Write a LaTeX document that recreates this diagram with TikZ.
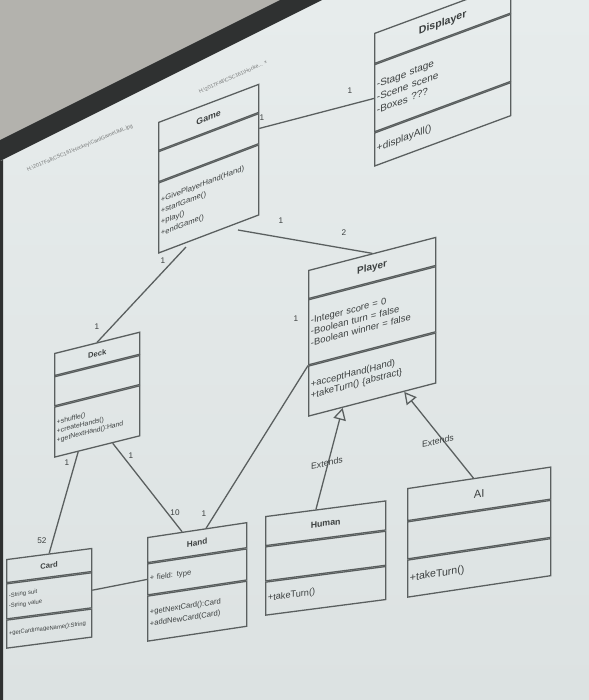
\documentclass[tikz,border=0pt]{standalone}
\usepackage{fontspec}
\setmainfont{Liberation Sans}
\usetikzlibrary{arrows.meta,calc}
\definecolor{screen}{HTML}{E7ECEC}
\definecolor{screendk}{HTML}{DCE2E2}
\definecolor{ceiling}{HTML}{B3B2AD}
\definecolor{bezel}{HTML}{2F3131}
\definecolor{linec}{HTML}{5A5F5F}
\definecolor{ink}{HTML}{3C4040}
\newcommand{\clsfont}{\fontsize{7}{9}\selectfont}
\newcommand{\clstitle}{\fontsize{7}{9}\selectfont\bfseries}
\tikzset{
  cname/.style 2 args={draw=linec, line width=1.1pt, anchor=north west, align=center,
    text=ink, inner xsep=0.07cm, inner ysep=1pt, text width=#1, minimum height=#2,
    font=\clstitle},
  cpart/.style 2 args={draw=linec, line width=1.1pt, anchor=north west, align=left,
    text=ink, inner xsep=0.07cm, inner ysep=1pt, text width=#1, minimum height=#2,
    font=\clsfont},
  assoc/.style={draw=linec, line width=1.1pt},
  extends/.style={assoc, -{Triangle[open, length=3.6mm, width=3.8mm]}},
  mult/.style={text=ink, font=\fontsize{7}{8}\selectfont, inner sep=0pt},
  browser/.style={text=ink!70, font=\fontsize{4.5}{5}\selectfont, inner sep=0pt},
}

\begin{document}
\begin{tikzpicture}[x=0.03cm, y=-0.03cm]
     \useasboundingbox (0,0) rectangle (589,700);
     % screen, ceiling and bezel
     \shade[top color=screen, bottom color=screendk] (0,0) rectangle (589,700);
     \fill[ceiling] (0,0) -- (280,0) -- (0,140) -- cycle;
     \fill[bezel] (0,140) -- (280,0) -- (322,0) -- (0,161) -- cycle;
     \fill[bezel] (0,161) -- (3,160) -- (3,700) -- (0,700) -- cycle;
     \node[browser, rotate=24] (tab) at (233,77) {H:\textbackslash 2017Fall\textbackslash CSC161\textbackslash Hocke... ×};
     \node[browser, rotate=23] (addr) at (80,148) {H:\textbackslash 2017Fall\textbackslash CSC161\textbackslash Hockey\textbackslash CardGameUML.jpg};

     % Displayer
     \begin{scope}[shift={(374,33)}, yslant=0.37, transform shape]
       \def\clsfont{\fontsize{8.5}{11}\selectfont}
       \def\clstitle{\fontsize{9}{11}\selectfont\bfseries}
       \node[cname={3.94cm}{0.90cm}] (disp) at (0,0) {Displayer};
       \node[cpart={3.94cm}{2.01cm}] (disp-a) at (disp.south west) {-Stage stage\\-Scene scene\\-Boxes ???};
       \node[cpart={3.94cm}{0.99cm}] (disp-m) at (disp-a.south west) {+displayAll()};
     \end{scope}

     % Game
     \begin{scope}[shift={(158,122)}, yslant=0.38, transform shape]
       \def\clsfont{\fontsize{6.5}{9.5}\selectfont}
       \def\clstitle{\fontsize{7.5}{9}\selectfont\bfseries}
       \node[cname={2.86cm}{0.84cm}] (game) at (0,0) {Game};
       \node[cpart={2.86cm}{0.90cm}] (game-a) at (game.south west) {};
       \node[cpart={2.86cm}{2.10cm}] (game-m) at (game-a.south west) {+GivePlayerHand(Hand)\\+startGame()\\+play()\\+endGame()};
     \end{scope}

     % Player
     \begin{scope}[shift={(308,270)}, yslant=0.26, transform shape]
       \def\clsfont{\fontsize{8}{9.5}\selectfont}
       \def\clstitle{\fontsize{8.5}{10}\selectfont\bfseries}
       \node[cname={3.67cm}{0.84cm}] (player) at (0,0) {Player};
       \node[cpart={3.67cm}{1.95cm}] (player-a) at (player.south west) {-Integer score = 0\\-Boolean turn = false\\-Boolean winner = false};
       \node[cpart={3.67cm}{1.50cm}] (player-m) at (player-a.south west) {+acceptHand(Hand)\\+takeTurn() \{abstract\}};
     \end{scope}

     % Deck
     \begin{scope}[shift={(54,353)}, yslant=0.25, transform shape]
       \def\clsfont{\fontsize{5.8}{7.5}\selectfont}
       \def\clstitle{\fontsize{6.5}{8}\selectfont\bfseries}
       \node[cname={2.41cm}{0.66cm}] (deck) at (0,0) {Deck};
       \node[cpart={2.41cm}{0.87cm}] (deck-a) at (deck.south west) {};
       \node[cpart={2.41cm}{1.50cm}] (deck-m) at (deck-a.south west) {+shuffle()\\+createHands()\\+getNextHand():Hand};
     \end{scope}

     % Card
     \begin{scope}[shift={(6,559)}, yslant=0.13, transform shape]
       \def\clsfont{\fontsize{5}{9}\selectfont}
       \def\clstitle{\fontsize{6.5}{8}\selectfont\bfseries}
       \node[cname={2.41cm}{0.69cm}] (card) at (0,0) {Card};
       \node[cpart={2.41cm}{1.05cm}] (card-a) at (card.south west) {-String suit\\-String value};
       \node[cpart={2.41cm}{0.84cm}] (card-m) at (card-a.south west) {+getCardImageName():String};
     \end{scope}

     % Hand
     \begin{scope}[shift={(147,537)}, yslant=0.15, transform shape]
       \def\clsfont{\fontsize{6.5}{10}\selectfont}
       \def\clstitle{\fontsize{7}{9}\selectfont\bfseries}
       \node[cname={2.83cm}{0.75cm}] (hand) at (0,0) {Hand};
       \node[cpart={2.83cm}{0.93cm}] (hand-a) at (hand.south west) {+ field: type};
       \node[cpart={2.83cm}{1.35cm}] (hand-m) at (hand-a.south west) {+getNextCard():Card\\+addNewCard(Card)};
     \end{scope}

     % Human
     \begin{scope}[shift={(265,516)}, yslant=0.13, transform shape]
       \def\clsfont{\fontsize{7.8}{9.5}\selectfont}
       \def\clstitle{\fontsize{7.5}{9}\selectfont\bfseries}
       \node[cname={3.46cm}{0.87cm}] (human) at (0,0) {Human};
       \node[cpart={3.46cm}{1.02cm}] (human-a) at (human.south west) {};
       \node[cpart={3.46cm}{0.99cm}] (human-m) at (human-a.south west) {+takeTurn()};
     \end{scope}

     % AI
     \begin{scope}[shift={(407,488)}, yslant=0.15, transform shape]
       \def\clsfont{\fontsize{9}{11}\selectfont}
       \def\clstitle{\fontsize{9.5}{11}\selectfont}
       \node[cname={4.15cm}{0.96cm}] (ai) at (0,0) {AI};
       \node[cpart={4.15cm}{1.11cm}] (ai-a) at (ai.south west) {};
       \node[cpart={4.15cm}{1.11cm}] (ai-m) at (ai-a.south west) {+takeTurn()};
     \end{scope}

     % associations
     \coordinate (gd) at (186,247);
     \coordinate (gp) at (238,230);
     \draw[assoc] (game-a.east) -- (disp-a.west);
     \draw[assoc] (gp) -- (player.north);
     \draw[assoc] (gd) -- (deck.north);
     \draw[assoc] ($(deck-m.south west)!0.28!(deck-m.south east)$) -- (card.north);
     \draw[assoc] ($(deck-m.south west)!0.68!(deck-m.south east)$) -- ($(hand.north west)!0.35!(hand.north east)$);
     \draw[assoc] (player-a.south west) -- ($(hand.north west)!0.59!(hand.north east)$);
     \draw[assoc] (card-a.east) -- (hand-a.west);
     \draw[extends] ($(human.north west)!0.42!(human.north east)$) -- ($(player-m.south west)!0.27!(player-m.south east)$);
     \draw[extends] ($(ai.north west)!0.46!(ai.north east)$) -- ($(player-m.south west)!0.75!(player-m.south east)$);

     % multiplicities
     \node[mult] (m-gdisp) at (262,118) {1};
     \node[mult] (m-disp) at (350,91) {1};
     \node[mult] (m-gplay) at (281,221) {1};
     \node[mult] (m-play) at (344,233) {2};
     \node[mult] (m-gdeck) at (163,261) {1};
     \node[mult] (m-deck) at (97,327) {1};
     \node[mult] (m-dcard) at (67,463) {1};
     \node[mult] (m-card) at (42,541) {52};
     \node[mult] (m-dhand) at (131,456) {1};
     \node[mult] (m-hand) at (175,513) {10};
     \node[mult] (m-phand) at (296,319) {1};
     \node[mult] (m-hplay) at (204,514) {1};
     \node[mult, yslant=0.2, font=\fontsize{7.5}{9}\selectfont] (ext-human) at (327,463) {Extends};
     \node[mult, yslant=0.2, font=\fontsize{7.5}{9}\selectfont] (ext-ai) at (438,441) {Extends};
    \end{tikzpicture}
\end{document}
